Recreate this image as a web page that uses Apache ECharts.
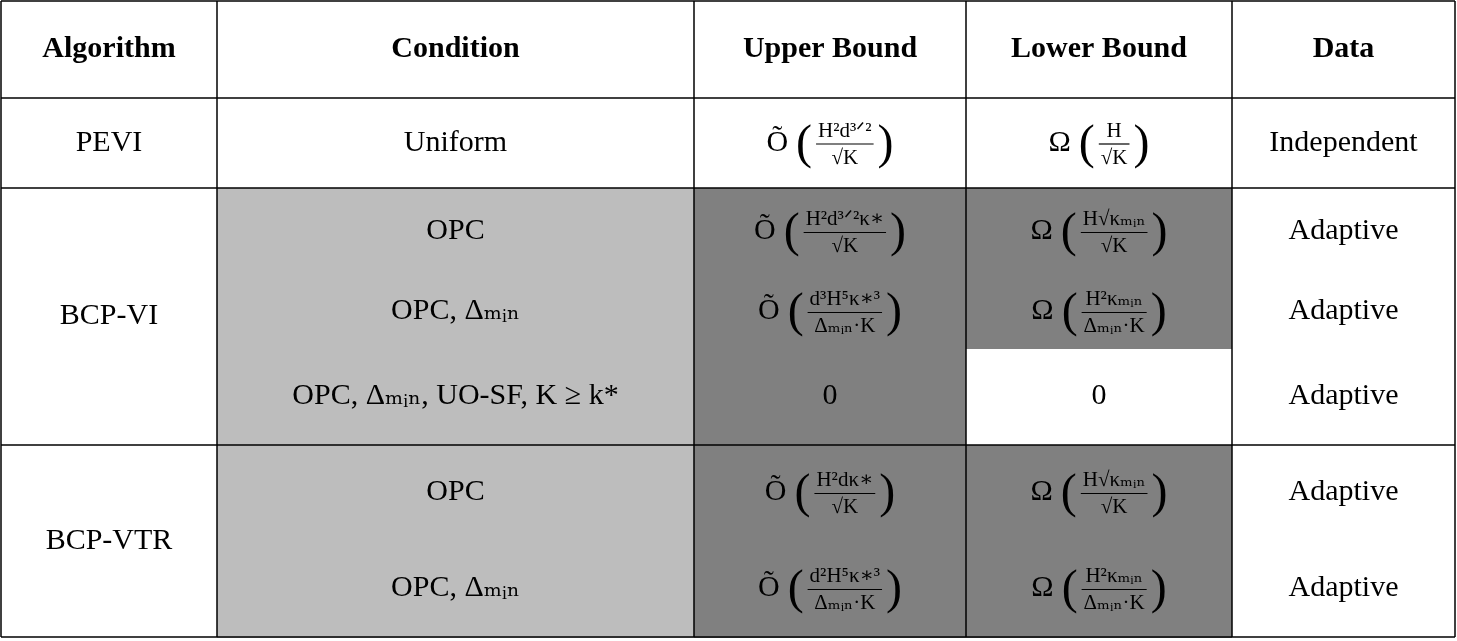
<!DOCTYPE html>
<html><head><meta charset="utf-8">
<script src="https://cdn.jsdelivr.net/npm/echarts@6/dist/echarts.min.js"></script>
<style>html,body{margin:0;padding:0;background:#fff}#c{width:1457px;height:641px}</style>
</head><body><div id="c"></div>
<script>
const headers = ['Algorithm','Condition','Upper Bound','Lower Bound','Data'];
const algorithms = ['PEVI','BCP-VI','BCP-VTR'];
const conditions = ['Uniform','OPC','OPC, Δₘᵢₙ','OPC, Δₘᵢₙ, UO-SF, K ≥ k*','OPC','OPC, Δₘᵢₙ'];
const upperBounds = [
  {pre:'Õ',num:'H²d³ᐟ²',den:'√K'},
  {pre:'Õ',num:'H²d³ᐟ²κ∗',den:'√K'},
  {pre:'Õ',num:'d³H⁵κ∗³',den:'Δₘᵢₙ·K'},
  '0',
  {pre:'Õ',num:'H²dκ∗',den:'√K'},
  {pre:'Õ',num:'d²H⁵κ∗³',den:'Δₘᵢₙ·K'}
];
const lowerBounds = [
  {pre:'Ω',num:'H',den:'√K'},
  {pre:'Ω',num:'H√κₘᵢₙ',den:'√K'},
  {pre:'Ω',num:'H²κₘᵢₙ',den:'Δₘᵢₙ·K'},
  '0',
  {pre:'Ω',num:'H√κₘᵢₙ',den:'√K'},
  {pre:'Ω',num:'H²κₘᵢₙ',den:'Δₘᵢₙ·K'}
];
const dataTypes = ['Independent','Adaptive','Adaptive','Adaptive','Adaptive','Adaptive'];

// layout
const colEdges=[1,217,694,966,1232,1455];
const rowEdges=[1,98,188,275,348,445,540,637];
const lineRows=[0,1,2,5,7];
const LIGHT='#bdbdbd', DARK='#808080';
const fills = {1:[null,LIGHT,LIGHT,LIGHT,LIGHT,LIGHT],2:[null,DARK,DARK,DARK,DARK,DARK],3:[null,DARK,DARK,null,DARK,DARK]};
const algSpans=[[1,2],[2,5],[5,7]];

const cells=[];
headers.forEach((h,i)=>cells.push({c:i,r0:0,r1:1,v:h,bold:true}));
algorithms.forEach((a,i)=>cells.push({c:0,r0:algSpans[i][0],r1:algSpans[i][1],v:a}));
[conditions,upperBounds,lowerBounds,dataTypes].forEach((arr,k)=>{
  arr.forEach((v,j)=>cells.push({c:k+1,r0:j+1,r1:j+2,v:v,fill:(fills[k+1]||[])[j]}));
});
// merge fills: draw condition background as a block per group
const cv=document.createElement('canvas').getContext('2d');
function tw(t,f){cv.font=f;return cv.measureText(t).width;}
const FONT='"Liberation Serif","DejaVu Serif",serif';

const chart=echarts.init(document.getElementById('c'));
chart.setOption({
  animation:false,
  grid:{left:0,right:0,top:0,bottom:0},
  xAxis:{type:'value',min:0,max:1457,show:false},
  yAxis:{type:'value',min:0,max:641,inverse:true,show:false},
  series:[{
    type:'custom',
    data:cells.map((c,i)=>[i]),
    renderItem:function(params,api){
      const c=cells[api.value(0)];
      const p0=api.coord([colEdges[c.c],rowEdges[c.r0]]);
      const p1=api.coord([colEdges[c.c+1],rowEdges[c.r1]]);
      const cx=(p0[0]+p1[0])/2, cy=(p0[1]+p1[1])/2;
      const ch=[];
      if(c.fill) ch.push({type:'rect',shape:{x:p0[0],y:p0[1],width:p1[0]-p0[0],height:p1[1]-p0[1]+1},style:{fill:c.fill}});
      if(typeof c.v==='string'){
        ch.push({type:'text',style:{text:c.v,x:cx,y:cy,align:'center',verticalAlign:'middle',font:(c.bold?'bold ':'')+'30px '+FONT,fill:'#000'}});
      } else {
        const f='21px '+FONT;
        const w=Math.max(tw(c.v.num,f),tw(c.v.den,f))+4;
        const pf='30px '+FONT, parf='48px '+FONT;
        const preW=tw(c.v.pre,pf), parW=tw('(',parf);
        const total=preW+8+parW*2+w+8;
        let x=cx-total/2;
        ch.push({type:'text',style:{text:c.v.pre,x:x,y:cy,align:'left',verticalAlign:'middle',font:pf,fill:'#000'}});
        x+=preW+8;
        ch.push({type:'text',style:{text:'(',x:x,y:cy+2,align:'left',verticalAlign:'middle',font:parf,fill:'#000'}});
        x+=parW+4;
        const fx=x+w/2;
        ch.push({type:'text',style:{text:c.v.num,x:fx,y:cy-12,align:'center',verticalAlign:'middle',font:f,fill:'#000'}});
        ch.push({type:'line',shape:{x1:x,y1:cy+1,x2:x+w,y2:cy+1},style:{stroke:'#000',lineWidth:1.2}});
        ch.push({type:'text',style:{text:c.v.den,x:fx,y:cy+15,align:'center',verticalAlign:'middle',font:f,fill:'#000'}});
        x+=w+4;
        ch.push({type:'text',style:{text:')',x:x,y:cy+2,align:'left',verticalAlign:'middle',font:parf,fill:'#000'}});
      }
      return {type:'group',children:ch};
    },
    z:1
  },{
    type:'custom',
    data:[[0]],
    renderItem:function(params,api){
      const ch=[];
      const top=api.coord([0,rowEdges[0]])[1], bot=api.coord([0,rowEdges[rowEdges.length-1]])[1];
      colEdges.forEach(e=>{const x=api.coord([e,0])[0];ch.push({type:'line',shape:{x1:x,y1:top,x2:x,y2:bot},style:{stroke:'#000',lineWidth:1.5}});});
      const l=api.coord([colEdges[0],0])[0], r=api.coord([colEdges[colEdges.length-1],0])[0];
      lineRows.forEach(i=>{const y=api.coord([0,rowEdges[i]])[1];ch.push({type:'line',shape:{x1:l,y1:y,x2:r,y2:y},style:{stroke:'#000',lineWidth:1.5}});});
      return {type:'group',children:ch};
    },
    z:2
  }]
});
</script></body></html>
